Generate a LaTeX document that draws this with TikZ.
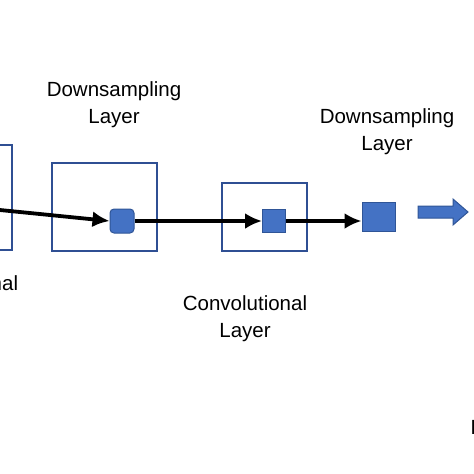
\documentclass[tikz,border=0pt]{standalone}
\usepackage{fontspec}
\setmainfont{Liberation Sans}
\usetikzlibrary{positioning, arrows.meta}
\definecolor{frameblue}{HTML}{2F4F93}
\definecolor{cellblue}{HTML}{4472C4}
\definecolor{celledge}{HTML}{2F5597}

\begin{document}
\begin{tikzpicture}[
  x=1pt, y=-1pt,
  frame/.style={draw=frameblue, line width=2pt, inner sep=0},
  cell/.style={draw=celledge, fill=cellblue, line width=1pt, inner sep=0},
  flow/.style={-{Latex[length=17pt, width=16pt]}, line width=3.8pt, black},
  caption/.style={font=\fontsize{20.5}{27}\selectfont, align=center},
]
  \useasboundingbox (0,0) rectangle (474,474);

  % --- frames around the maps ---
  \node[frame, minimum width=120pt, minimum height=105pt] (map0) at (-48,197.5) {};
  \node[frame, minimum width=105pt, minimum height=88pt]  (map1) at (104.5,207) {};
  \node[frame, minimum width=85pt,  minimum height=68pt]  (map2) at (264.5,217) {};

  % --- units inside the frames ---
  \node[cell, rounded corners=4pt, minimum size=24pt] (pool1) at (122,221) {};
  \node[cell, minimum size=23pt] (conv2) at (274,221) {};
  \node[cell, minimum width=33pt, minimum height=29pt] (pool2) at (378.5,216.5) {};

  % --- connectors ---
  \coordinate (src) at (-40,206);
  \draw[flow] (src) -- (pool1.west);
  \draw[flow] (pool1.east) -- (conv2.west);
  \draw[flow] (conv2.east) -- (conv2.east -| pool2.west);

  % --- block arrow to the next stage ---
  \draw[draw=celledge, fill=cellblue, line width=1pt]
    (418,206) -- (453,206) -- (453,199) -- (468,212) -- (453,225) -- (453,218) -- (418,218) -- cycle;

  % --- captions ---
  \node[caption] (cap1) at (114,105) {Downsampling\\Layer};
  \node[caption] (cap2) at (387,132) {Downsampling\\Layer};
  \node[caption] (cap3) at (245,319) {Convolutional\\Layer};
  \node[caption] (cap0) at (-44,299) {Convolutional\\Layer};
  \node[caption, anchor=west, inner sep=0] (cap4) at (470.5,427) {F};
\end{tikzpicture}
\end{document}
